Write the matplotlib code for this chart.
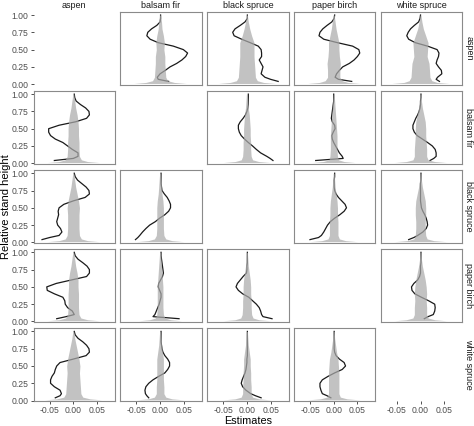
import matplotlib.pyplot as plt
import numpy as np

plt.rcParams['font.family'] = ['Liberation Sans', 'DejaVu Sans']
plt.rcParams['axes.unicode_minus'] = False

species = ["aspen", "balsam fir", "black spruce", "paper birch", "white spruce"]

# relative stand height where the estimate curves were read
heights = [1.0, 0.95, 0.9, 0.85, 0.8, 0.75, 0.7, 0.65, 0.6, 0.55, 0.5,
           0.45, 0.4, 0.35, 0.3, 0.25, 0.2, 0.15, 0.1, 0.07, 0.04]
# heights for the grey interval band (half widths below)
band_heights = [0.01, 0.025, 0.05, 0.1, 0.2, 0.3, 0.4, 0.5, 0.6, 0.7, 0.8, 0.9, 1.0]

# rows = species facet on the right, keys = column facet
aspen_lines = {
    "balsam fir": [0.001, 0.001, 0.0, -0.007, -0.018, -0.026, -0.028, -0.021, -0.004, 0.028, 0.049,
                   0.058, 0.054, 0.046, 0.035, 0.021, 0.011, 0.0, -0.006, -0.004, 0.018],
    "black spruce": [0.001, 0.001, -0.004, -0.014, -0.025, -0.030, -0.027, -0.011, 0.007, 0.024, 0.030,
                     0.031, 0.031, 0.026, 0.030, 0.034, 0.032, 0.030, 0.038, 0.050, 0.066],
    "paper birch": [0.002, 0.001, -0.004, -0.014, -0.023, -0.029, -0.031, -0.021, 0.008, 0.040, 0.053,
                    0.055, 0.050, 0.043, 0.033, 0.019, 0.012, 0.006, 0.003, 0.010, 0.038],
    "white spruce": [0.0, -0.001, -0.004, -0.013, -0.021, -0.026, -0.029, -0.025, -0.011, 0.015, 0.035,
                     0.039, 0.038, 0.035, 0.033, 0.038, 0.044, 0.045, 0.036, 0.033, 0.040],
}
balsam_lines = {
    "aspen": [0.002, 0.003, 0.006, 0.015, 0.026, 0.033, 0.034, 0.028, 0.005, -0.030, -0.052,
              -0.052, -0.048, -0.038, -0.022, -0.012, -0.002, 0.010, 0.010, 0.0, -0.040],
    "black spruce": [0.003, 0.003, 0.003, 0.003, 0.002, 0.0, -0.003, -0.008, -0.014, -0.018, -0.018,
                     -0.016, -0.012, -0.005, 0.003, 0.012, 0.020, 0.029, 0.042, 0.049, 0.055],
    "paper birch": [0.0, 0.0, 0.0, -0.001, -0.002, -0.003, -0.004, -0.005, -0.003, 0.002, 0.003,
                    -0.001, -0.004, -0.003, 0.0, 0.004, 0.008, 0.012, 0.018, 0.020, -0.038],
    "white spruce": [0.001, 0.001, 0.0, 0.0, -0.001, -0.003, -0.006, -0.010, -0.013, -0.016, -0.016,
                     -0.013, -0.007, 0.004, 0.015, 0.025, 0.031, 0.033, 0.033, 0.028, 0.020],
}
black_lines = {
    "aspen": [0.002, 0.004, 0.009, 0.018, 0.027, 0.033, 0.034, 0.025, 0.0, -0.020, -0.030,
              -0.032, -0.031, -0.033, -0.035, -0.033, -0.027, -0.024, -0.030, -0.050, -0.066],
    "balsam fir": [0.002, 0.002, 0.002, 0.002, 0.003, 0.004, 0.009, 0.015, 0.019, 0.022, 0.022,
                   0.018, 0.010, -0.001, -0.010, -0.022, -0.030, -0.037, -0.043, -0.047, -0.052],
    "paper birch": [0.002, 0.002, 0.001, 0.001, 0.001, 0.002, 0.005, 0.010, 0.017, 0.024, 0.027,
                    0.022, 0.013, 0.002, -0.007, -0.013, -0.017, -0.021, -0.026, -0.032, -0.050],
    "white spruce": [0.001, 0.001, 0.001, 0.0, 0.0, 0.0, 0.0, 0.0, 0.0, 0.001, 0.002,
                     0.005, 0.009, 0.012, 0.014, 0.015, 0.012, 0.005, -0.006, -0.014, -0.025],
}
birch_lines = {
    "aspen": [0.002, 0.004, 0.010, 0.020, 0.029, 0.034, 0.034, 0.028, -0.004, -0.036, -0.056,
              -0.055, -0.040, -0.022, -0.018, -0.017, -0.012, -0.002, 0.002, -0.015, -0.035],
    "balsam fir": [0.002, 0.002, 0.003, 0.004, 0.005, 0.006, 0.007, 0.005, 0.001, -0.003, -0.004,
                   -0.001, 0.002, 0.002, 0.0, -0.002, -0.005, -0.008, -0.011, -0.015, 0.040],
    "black spruce": [0.001, 0.001, 0.001, 0.001, 0.0, 0.0, -0.001, -0.008, -0.014, -0.020, -0.023,
                     -0.018, -0.009, 0.004, 0.012, 0.020, 0.026, 0.029, 0.031, 0.034, 0.053],
    "white spruce": [0.001, 0.001, 0.001, 0.001, 0.0, 0.0, 0.0, -0.002, -0.006, -0.014, -0.019,
                     -0.018, -0.012, 0.002, 0.017, 0.030, 0.031, 0.030, 0.027, 0.016, 0.008],
}
white_lines = {
    "aspen": [0.002, 0.004, 0.010, 0.020, 0.028, 0.033, 0.034, 0.027, 0.0, -0.028, -0.035,
              -0.038, -0.040, -0.045, -0.048, -0.048, -0.040, -0.028, -0.025, -0.028, -0.038],
    "balsam fir": [0.002, 0.002, 0.002, 0.002, 0.003, 0.004, 0.006, 0.010, 0.016, 0.020, 0.020,
                   0.016, 0.010, -0.003, -0.015, -0.024, -0.030, -0.032, -0.031, -0.028, -0.024],
    "black spruce": [0.001, 0.001, 0.001, 0.001, 0.001, 0.001, 0.001, 0.001, 0.0, 0.0, -0.001,
                     -0.002, -0.004, -0.007, -0.010, -0.012, -0.009, -0.002, 0.008, 0.018, 0.030],
    "paper birch": [0.001, 0.001, 0.001, 0.001, 0.001, 0.001, 0.002, 0.005, 0.012, 0.022, 0.025,
                    0.018, 0.002, -0.012, -0.024, -0.029, -0.029, -0.027, -0.024, -0.014, -0.006],
}

# half widths of grey band
aspen_bands = {
    "balsam fir": [0.055, 0.030, 0.016, 0.012, 0.011, 0.010, 0.010, 0.008, 0.009, 0.007, 0.004, 0.003, 0.001],
    "black spruce": [0.060, 0.035, 0.022, 0.018, 0.017, 0.016, 0.015, 0.015, 0.015, 0.010, 0.006, 0.003, 0.001],
    "paper birch": [0.055, 0.030, 0.018, 0.013, 0.013, 0.014, 0.012, 0.011, 0.011, 0.008, 0.005, 0.003, 0.001],
    "white spruce": [0.060, 0.035, 0.024, 0.020, 0.019, 0.018, 0.014, 0.015, 0.016, 0.011, 0.006, 0.003, 0.001],
}
balsam_bands = {
    "aspen": [0.055, 0.030, 0.017, 0.013, 0.012, 0.012, 0.011, 0.011, 0.010, 0.008, 0.005, 0.003, 0.001],
    "black spruce": [0.050, 0.025, 0.012, 0.009, 0.008, 0.008, 0.007, 0.007, 0.006, 0.005, 0.003, 0.002, 0.001],
    "paper birch": [0.045, 0.022, 0.010, 0.008, 0.007, 0.007, 0.007, 0.006, 0.005, 0.004, 0.003, 0.002, 0.001],
    "white spruce": [0.055, 0.030, 0.016, 0.013, 0.013, 0.012, 0.011, 0.011, 0.010, 0.007, 0.004, 0.002, 0.001],
}
black_bands = {
    "aspen": [0.055, 0.030, 0.017, 0.013, 0.012, 0.012, 0.012, 0.013, 0.011, 0.008, 0.005, 0.003, 0.001],
    "balsam fir": [0.050, 0.025, 0.012, 0.008, 0.007, 0.007, 0.007, 0.007, 0.006, 0.004, 0.003, 0.002, 0.001],
    "paper birch": [0.050, 0.025, 0.012, 0.009, 0.009, 0.009, 0.008, 0.008, 0.007, 0.005, 0.003, 0.002, 0.001],
    "white spruce": [0.055, 0.028, 0.014, 0.011, 0.010, 0.010, 0.011, 0.011, 0.010, 0.007, 0.004, 0.002, 0.001],
}
birch_bands = {
    "aspen": [0.055, 0.030, 0.016, 0.012, 0.011, 0.011, 0.011, 0.010, 0.010, 0.008, 0.005, 0.003, 0.001],
    "balsam fir": [0.045, 0.022, 0.010, 0.007, 0.006, 0.006, 0.006, 0.006, 0.005, 0.004, 0.003, 0.002, 0.001],
    "black spruce": [0.050, 0.025, 0.013, 0.010, 0.009, 0.009, 0.008, 0.008, 0.007, 0.005, 0.003, 0.002, 0.001],
    "white spruce": [0.055, 0.030, 0.016, 0.013, 0.013, 0.012, 0.013, 0.012, 0.010, 0.007, 0.004, 0.002, 0.001],
}
white_bands = {
    "aspen": [0.060, 0.035, 0.020, 0.016, 0.015, 0.014, 0.013, 0.014, 0.012, 0.009, 0.006, 0.003, 0.001],
    "balsam fir": [0.050, 0.025, 0.012, 0.008, 0.008, 0.007, 0.007, 0.007, 0.007, 0.005, 0.003, 0.002, 0.001],
    "black spruce": [0.050, 0.025, 0.012, 0.009, 0.009, 0.008, 0.008, 0.007, 0.007, 0.005, 0.003, 0.002, 0.001],
    "paper birch": [0.055, 0.028, 0.014, 0.011, 0.011, 0.011, 0.011, 0.010, 0.009, 0.006, 0.004, 0.002, 0.001],
}

row_lines = [aspen_lines, balsam_lines, black_lines, birch_lines, white_lines]
row_bands = [aspen_bands, balsam_bands, black_bands, birch_bands, white_bands]

W, H = 474, 426
fig = plt.figure(figsize=(W / 100, H / 100), dpi=100)

pw, ph = 81.5, 73.3     # panel size in px
x0, y0 = 33.5, 11.7     # top-left of first panel
dx, dy = 86.8, 79.1     # panel spacing

tick_col = '#4d4d4d'
for i, rsp in enumerate(species):
    for j, csp in enumerate(species):
        left = (x0 + j * dx) / W
        bottom = 1 - (y0 + i * dy + ph) / H
        ax = fig.add_axes([left, bottom, pw / W, ph / H])
        ax.set_xlim(-0.084, 0.088)
        ax.set_ylim(-0.012, 1.048)
        ax.set_xticks([-0.05, 0.0, 0.05])
        ax.set_xticklabels(['-0.05', '0.00', '0.05'])
        ax.set_yticks([0, 0.25, 0.5, 0.75, 1.0])
        ax.set_yticklabels(['0.00', '0.25', '0.50', '0.75', '1.00'])
        ax.tick_params(length=2, width=0.6, color='#333333', labelsize=6.2,
                       labelcolor=tick_col, pad=1.5)
        if j > 0:
            ax.tick_params(left=False, labelleft=False)
        if i < 4:
            ax.tick_params(bottom=False, labelbottom=False)
        for s in ax.spines.values():
            s.set_color('#8a8a8a')
            s.set_linewidth(0.8)
        if i == j:
            for s in ax.spines.values():
                s.set_visible(False)
            if i not in (0, 4):
                ax.axis('off')
            continue
        line = row_lines[i][csp]
        half = np.array(row_bands[i][csp])
        ax.plot(line, heights, color='#1a1a1a', lw=0.9, zorder=2)
        ax.fill_betweenx(band_heights, -half, half, color='#ababab', alpha=0.72,
                         lw=0, zorder=3)

# facet strip labels
for j, sp in enumerate(species):
    fig.text((x0 + j * dx + pw / 2) / W, 1 - 5.5 / H, sp, ha='center', va='center',
             fontsize=6.5, color='#1a1a1a')
for i, sp in enumerate(species):
    fig.text(469 / W, 1 - (y0 + i * dy + ph / 2) / H, sp, ha='center', va='center',
             rotation=-90, fontsize=6.5, color='#1a1a1a')

fig.text((x0 + 4 * dx + pw + x0) / 2 / W, 1 - 421 / H, 'Estimates', ha='center',
         va='center', fontsize=7.8)
fig.text(6 / W, 1 - (y0 + 4 * dy + ph + y0) / 2 / H, 'Relative stand height',
         ha='center', va='center', rotation=90, fontsize=8)

fig.savefig('out.png', dpi=100)
